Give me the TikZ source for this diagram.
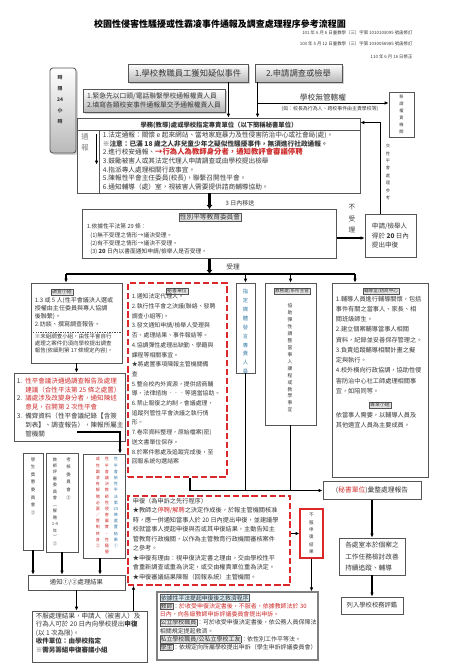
\documentclass[tikz,border=0pt]{standalone}
\usepackage{fontspec}
\setmainfont{Noto Sans CJK TC}
\usepackage{tikz}
\usetikzlibrary{shapes,arrows,arrows.meta,shadows}
\definecolor{redline}{RGB}{220,40,40}
\definecolor{redtext}{RGB}{205,45,45}
\definecolor{bluetext}{RGB}{50,120,165}
\definecolor{boxgray}{RGB}{85,85,85}
\definecolor{txtgray}{RGB}{55,55,55}
\definecolor{tagfill}{RGB}{228,228,228}
\definecolor{tagblue}{RGB}{214,234,244}
\setlength{\fboxsep}{0.6pt}
\setlength{\fboxrule}{0.4pt}
\tikzset{
  gbox/.style={shape=rectangle, draw=boxgray, line width=1.2pt, inner sep=1pt},
  shadebox/.style={gbox, top color=white, bottom color=gray!55, drop shadow={opacity=0.35}},
  redbox/.style={shape=rectangle, draw=redline, line width=2.2pt, dash pattern=on 9pt off 4pt},
  tag/.style={shape=rectangle, draw=boxgray, fill=tagfill, line width=0.5pt, inner sep=1.2pt, font=\fontsize{7}{8}\selectfont},
  link/.style={->, line width=1.7pt},
  fatlink/.style={-{Latex[length=6pt,width=9pt]}, line width=4pt}
}
\begin{document}
\begin{tikzpicture}[x=0.05cm, y=-0.05cm, >={Latex[length=5.5pt,width=5pt]}, every node/.style={text=txtgray}]
\useasboundingbox (0,0) rectangle (474,671);

% title
\node (title) at (220,24) [font=\fontsize{12.8}{14}\selectfont\bfseries, text=black] {校園性侵害性騷擾或性霸凌事件通報及調查處理程序參考流程圖};
\node (rev1) at (415,33) [anchor=east, font=\fontsize{6.3}{7}\selectfont] {101 年 6 月 6 日臺教學（三）字第 1010103095 號函修訂};
\node (rev2) at (415,44) [anchor=east, font=\fontsize{6.3}{7}\selectfont] {103 年 5 月 12 日臺教學（三）字第 1030056985 號函修訂};
\node (rev3) at (415,57) [anchor=east, font=\fontsize{6.3}{7}\selectfont] {110 年 6 月 16 日修正};

% report
\node (limit) at (63,110.5) [shadebox, rounded corners=4pt, minimum width=1.3cm, minimum height=4.25cm] {};
\node (limittxt) at (60,100) [align=center, font=\fontsize{7}{15.6}\selectfont\bfseries] {時\\限\\24\\小\\時};
\node (know) at (188,73) [shadebox, minimum width=6cm, minimum height=0.9cm, font=\fontsize{11.8}{13}\selectfont] {1.學校教職員工獲知疑似事件};
\node (apply) at (298.5,73) [shadebox, minimum width=4.35cm, minimum height=0.9cm, font=\fontsize{11.8}{13}\selectfont] {2.申請調查或檢舉};
\node (urgent) at (154,100.5) [shadebox, minimum width=7.1cm, minimum height=1.15cm, align=left, font=\fontsize{9.6}{12.8}\selectfont] {1.緊急先以口頭/電話聯繫學校通報權責人員\\2.填寫各類校安事件通報單交予通報權責人員};

\node (sec) at (218.5,155.5) [gbox, minimum width=14.15cm, minimum height=3.75cm] {};
\node (sechead) at (219,125) [font=\fontsize{9}{11}\selectfont\bfseries] {學務(教導)處或學校指定專責單位（以下簡稱秘書單位）};
\draw [boxgray, line width=0.8pt] ([yshift=-0.65cm]sec.north west) -- ([yshift=-0.65cm]sec.north east);
\draw [boxgray, line width=0.8pt] ([xshift=1.15cm,yshift=-0.65cm]sec.north west) -- ([xshift=1.15cm]sec.south west);
\node (report) at (85,142) [align=center, text=gray, font=\fontsize{10.5}{15.5}\selectfont] {通\\報};
\draw [link] ([xshift=1cm,yshift=-0.8cm]sec.north west) -- ([xshift=1cm,yshift=-2.35cm]sec.north west);
\node (sectxt) at (102,131) [anchor=north west, align=left, inner sep=1pt, font=\fontsize{9.5}{12.3}\selectfont] {1.法定通報：關懷 e 起來網站、當地家庭暴力及性侵害防治中心或社會局(處)。\\
\textbf{※注意：已滿 18 歲之人非兒童少年之疑似性騷擾事件，無須進行社政通報。}\\
2.進行校安通報、{\color{redtext}\bfseries\fontsize{10.5}{12.3}\selectfont →行為人為教師身分者，通知教評會審議停聘}\\
3.鼓勵被害人或其法定代理人申請調查或由學校提出檢舉\\
4.指派專人處理相關行政事宜。\\
5.陳報性平會主任委員(校長)，聯繫召開性平會。\\
6.通知輔導（處）室，視被害人需要提供諮商輔導協助。};

\draw [link] ([xshift=-1cm]know.south east) -- ([xshift=-1cm]know.south east |- sec.north);
\draw [link] ([xshift=0.15cm]apply.south west) -- ([xshift=0.15cm]apply.south west |- sec.north);

% no jurisdiction
\node (transfer) at (401.5,114.5) [gbox, minimum width=1.25cm, minimum height=2.25cm, align=center, font=\fontsize{6}{9.9}\selectfont] {移\\請\\權\\責\\機\\關};
\coordinate (nojur) at (258,103);
\draw [->, line width=1.2pt] (nojur) -- (nojur -| transfer.west);
\node (nojurtxt) at (323,97.5) [font=\fontsize{11}{12}\selectfont] {學校無管轄權};
\node (nojurnote) at (330,109) [font=\fontsize{7}{8}\selectfont] {(如：校長為行為人、跨校事件由主責學校等)};

% committee
\node (cte) at (209.5,234) [gbox, minimum width=12.7cm, minimum height=2.45cm] {};
\draw [fatlink] (sec.south -| cte.north) -- (cte.north);
\node (move) at (240,203) [font=\fontsize{8.5}{10}\selectfont] {3 日內移送};
\node (ctetag) at (210,217) [tag, font=\fontsize{9.5}{10}\selectfont] {性別平等教育委員會};
\node (ctetxt) at (86,223) [anchor=north west, align=left, inner sep=1pt, font=\fontsize{8.2}{11.8}\selectfont] {1.依據性平法第 29 條：\\
\hspace*{0.6em}(1)無不受理之情形→議決受理。\\
\hspace*{0.6em}(2)有不受理之情形→議決不受理。\\
\hspace*{0.6em}(3) \textbf{20} 日內以書面通知申請/檢舉人是否受理。};
\node (reject) at (352,219) [align=center, font=\fontsize{9.5}{16.3}\selectfont] {不\\受\\理};
\node (reapply) at (390.5,235.5) [gbox, minimum width=2.55cm, minimum height=2.15cm, align=left, font=\fontsize{9.3}{13.5}\selectfont] {申請/檢舉人\\得於 \textbf{20} 日內\\提出申復};
\draw [->, line width=2pt] ([yshift=-0.2cm]cte.east) -- ([yshift=-0.2cm]cte.east -| reapply.west);
\draw [->, line width=1.2pt] ([xshift=-0.525cm]reapply.north) |- ([yshift=-0.25cm]sec.north east);
\node (refer) at (388,172) [align=center, font=\fontsize{6}{10.5}\selectfont] {交\\性\\平\\會\\處\\理\\參\\考};

% investigation
\node (inv) at (76.5,323) [gbox, minimum width=4.55cm, minimum height=4cm] {};
\node (invtag) at (62,292) [tag] {調查小組};
\draw [boxgray, line width=1.4pt, dash pattern=on 2pt off 1.5pt] ([yshift=-2.5cm]inv.north west) -- ([yshift=-2.5cm]inv.north east);
\node (invtxt) at (34,297) [anchor=north west, align=left, inner sep=1pt, font=\fontsize{8.6}{11.4}\selectfont] {1.3 或 5 人(性平會議決人選或\\授權由主任委員與專人協調\\後聯繫)。\\2.訪談、撰寫調查報告。};
\node (invnote) at (34,333) [anchor=north west, align=left, inner sep=1pt, font=\fontsize{7.8}{10}\selectfont] {※未組調查小組，由性平會自行\\處理之案件仍須向學校提出調查\\報告(依細則第 17 條規定內容)。};

% secretary unit
\node (secunit) at (177.5,380) [redbox, minimum width=4.95cm, minimum height=9.7cm] {};
\node (sectag) at (177,291) [tag] {秘書單位};
\node (secunittxt) at (131,293) [anchor=north west, align=left, inner sep=1pt, font=\fontsize{8.4}{13.8}\selectfont] {1.通知法定代理人。\\
2.執行性平會之決議(聯絡、發聘\\調查小組等)。\\
3.發文通知申請/檢舉人受理與\\否、處理結果、事件報結等。\\
4.協調彈性處理出缺勤、學籍與\\課程等相關事宜。\\
★將處置事項陳報主管機關備\\查\\
5.整合校內外資源，提供諮商輔\\導、法律諮詢．．．等適當協助。\\
6.禁止報復之約制，會議處理，\\追蹤列管性平會決議之執行情\\形。\\
7.卷宗資料整理，原始檔案(密)\\送文書單位保存。\\
8.於案件懲處及追蹤完成後，至\\回報系統勾選結案};

% media, academic, counseling
\node (media) at (245.5,328) [gbox, minimum width=0.95cm, minimum height=4.5cm] {};
\node (mediatxt) at (245.5,287) [anchor=north, align=center, text=bluetext, font=\fontsize{7.5}{12.6}\selectfont] {指\\定\\媒\\體\\發\\言\\專\\責\\人\\員};
\node (acad) at (290.5,354) [gbox, minimum width=2.55cm, minimum height=7.1cm] {};
\node (acadtag) at (292,291) [tag, font=\fontsize{6.5}{7}\selectfont] {教務處/系所主管};
\node (acadtxt) at (290,301) [anchor=north, align=center, font=\fontsize{6.8}{9.9}\selectfont] {協\\助\\彈\\性\\調\\整\\當\\事\\人\\課\\程\\或\\教\\學\\事\\宜};
\node (couns) at (380,380) [gbox, minimum width=4.8cm, minimum height=9.7cm] {};
\node (counstag) at (381,291) [tag, font=\fontsize{6.5}{7}\selectfont] {輔導室/諮商中心};
\node (counstxt) at (335,295) [anchor=north west, align=left, inner sep=1pt, font=\fontsize{8.8}{14.6}\selectfont] {1.輔導人員進行輔導關懷，包括\\事件有關之當事人、家長、相\\關班級師生。\\
2.建立個案輔導當事人相關\\資料，紀錄並妥善保存管理之。\\
3.負責追蹤輔導相關計畫之擬\\定與執行。\\
4.校外橫向行政協調，協助性侵\\害防治中心社工師處理相關事\\宜，如陪同等。};
\node (proftag) at (380,405) [tag] {專業小組};
\node (proftxt) at (335,411) [anchor=north west, align=left, inner sep=1pt, font=\fontsize{8.8}{14.2}\selectfont] {依當事人需要，以輔導人員及\\其他適宜人員為主要成員。};

% accepted
\coordinate (hubL) at (66,274);
\coordinate (hubR) at (355,274);
\draw [fatlink] (cte.south) -- (cte.south |- hubL);
\node (accept) at (233,267) [font=\fontsize{9.5}{10}\selectfont] {受理};
\draw [line width=2pt] (hubL) -- (hubR);
\draw [link] (hubL) -- (hubL |- inv.north);
\draw [link] (media.north |- hubL) -- (media.north);
\draw [link] (acad.north |- hubL) -- (acad.north);
\draw [link] (hubR) -- (hubR |- couns.north);

% report summary
\node (rpt) at (372,490.5) [gbox, line width=1.4pt, minimum width=4.9cm, minimum height=0.9cm, font=\fontsize{9.6}{11}\selectfont] {({\color{redtext}秘書單位})彙整處理報告};
\draw [link] ([xshift=0.625cm]secunit.south) |- (rpt.west);
\draw [line width=1.7pt] (media.south) -- (media.south |- rpt.west);
\draw [line width=1.7pt] (acad.south) -- (acad.south |- rpt.west);
\node (improve) at (372,556.5) [gbox, line width=1.4pt, minimum width=3.3cm, minimum height=1.85cm, align=left, font=\fontsize{9.5}{16.3}\selectfont] {各處室本於個案之\\工作任務檢討改善\\持續追蹤、輔導};
\node (eval) at (372,605.5) [gbox, line width=1.4pt, minimum width=3.1cm, minimum height=0.85cm, font=\fontsize{9}{10}\selectfont] {列入學校校務評鑑};
\draw [link] (rpt) -- (improve);
\draw [link] (improve) -- (eval);

% decision
\node (dec) at (69.5,407) [gbox, minimum width=5.55cm, minimum height=3.4cm] {};
\draw [link] (inv.south) -- (inv.south |- dec.north);
\node (dectxt) at (16,377) [anchor=north west, align=left, inner sep=1pt, font=\fontsize{9.3}{12.5}\selectfont] {\makebox[1.3em][l]{1.}{\color{redtext}性平會議決通過調查報告及處理}\\
\makebox[1.3em]{}{\color{redtext}建議（合性平法第 25 條之處置）}\\
\makebox[1.3em][l]{2.}{\color{redtext}議處涉及改變身分者，通知陳述}\\
\makebox[1.3em]{}{\color{redtext}意見，召開第 2 次性平會}\\
\makebox[1.3em][l]{3.}備齊資料（性平會議紀錄\textbf{【}含簽\\
\makebox[1.3em]{}到表\textbf{】}、調查報告），陳報所屬主\\
\makebox[1.3em]{}管機關};
\coordinate (decout) at (77,432);

\node (stu) at (33,501.5) [gbox, minimum width=1cm, minimum height=4.85cm] {};
\node (stutxt) at (33,455) [anchor=north, align=center, font=\fontsize{6.3}{10.8}\selectfont] {學\\生\\獎\\懲\\委\\員\\會\\②};
\node (tch) at (62,502.5) [gbox, minimum width=1.6cm, minimum height=4.95cm] {};
\node (tchcol1) at (68.5,455) [anchor=north, align=center, font=\fontsize{6.3}{10.8}\selectfont] {考\\核\\委\\員\\會\\②};
\node (tchcol2) at (55,455) [anchor=north, align=center, font=\fontsize{6}{9.2}\selectfont] {教\\師\\評\\審\\委\\員\\會\\︵\\解\\聘\\1-4\\年\\︶\\②};
\node (law) at (104,506) [gbox, minimum width=2.1cm, minimum height=5.2cm] {};
\node (lawcol1) at (116,455) [anchor=north, align=center, text=bluetext, font=\fontsize{5.8}{8.8}\selectfont] {性\\平\\會\\依\\性\\平\\法\\第\\25\\條\\處\\置\\結\\果\\①};
\node (lawcol2) at (107,455) [anchor=north, align=center, text=redtext, font=\fontsize{5.8}{8.8}\selectfont] {性\\平\\會\\議\\決\\教\\師\\性\\侵\\害\\屬\\實\\、\\性\\騷\\擾};
\node (lawcol3) at (98,455) [anchor=north, align=center, text=redtext, font=\fontsize{5.8}{8.8}\selectfont] {或\\性\\霸\\凌\\有\\解\\聘\\必\\要\\／\\管\\制\\終\\身\\②};
\draw [link] (decout) -| ([xshift=0.8cm]law.north);

\node (notify) at (76.5,582.5) [gbox, minimum width=4.85cm, minimum height=0.75cm, font=\fontsize{9}{10}\selectfont] {通知①/②處理結果};
\draw [link] (stu.south) -- (stu.south |- notify.north);
\draw [link] (tch.south) -- (tch.south |- notify.north);
\draw [link] ([xshift=-0.2cm]law.south) -- ([xshift=-0.2cm]law.south |- notify.north);

% review
\node (rv) at (209,540.5) [redbox, minimum width=8.1cm, minimum height=4.45cm] {};
\node (rvtxt) at (132,497) [anchor=north west, align=left, inner sep=1pt, font=\fontsize{8.8}{13.5}\selectfont] {申復（為申訴之先行程序）\\
★教師之{\color{redtext}停聘/解聘}之決定作成後，於報主管機關核准\\
時，應一併通知當事人於 20 日內提出申復，並建議學\\
校就當事人提起申復與否或其申復結果，主動告知主\\
管教育行政機關，以作為主管教育行政機關審核案件\\
之參考。\\
★申復有理由：視申復決定書之理由，交由學校性平\\
會重新調查或重為決定，或交由權責單位重為決定。\\
★申復審議結果陳報（回報系統）主管機關。};

\node (appl) at (89.5,636.5) [gbox, minimum width=5.75cm, minimum height=2.55cm] {};
\node (appltxt) at (35,612) [anchor=north west, align=left, inner sep=1pt, font=\fontsize{9.3}{12.1}\selectfont] {不服處理結果，申請人（被害人）及\\行為人可於 20 日內向學校提出\textbf{申復}\\(以 1 次為限)。\\\textbf{收件單位：由學校指定}\\\textbf{※需另籌組申復審議小組}};
\draw [link] (notify.south) -- (notify.south |- appl.north);
\draw [link] ([xshift=2.2cm]appl.north) -- ([xshift=2.2cm]appl.north |- rv.south);

\node (rej) at (311.5,533.5) [shape=rectangle, draw=redline, line width=1.8pt, minimum width=1.15cm, minimum height=2.45cm, align=center, font=\fontsize{6.5}{10.5}\selectfont] {不\\服\\申\\復\\結\\果};
\draw [link] (rv.east |- rej.west) -- (rej.west);

\node (rd) at (237.5,626) [gbox, draw=gray, line width=2pt, minimum width=8.05cm, minimum height=3.4cm] {};
\draw [->, line width=2pt] (rej.south) -- (rej.south |- rd.north);
\node (rdtag) at (160,598) [anchor=west, tag, fill=tagblue, font=\fontsize{8.3}{9}\selectfont] {依據性平法提起申復後之救濟程序};
\node (rdtxt) at (159,602) [anchor=north west, align=left, inner sep=1pt, font=\fontsize{8.5}{11.6}\selectfont] {\fcolorbox{boxgray}{tagfill}{教師}：{\color{redtext}於收受申復決定書後，不服者，依據教師法於 30}\\
{\color{redtext}日內，向各級教師申訴評議委員會提出申訴。}\\
\fcolorbox{boxgray}{tagfill}{公立學校職員}：可於收受申復決定書後，依公務人員保障法\\
相關規定提起救濟。\\
\fcolorbox{boxgray}{tagfill}{私立學校職員/公私立學校工友}：依性別工作平等法。\\
\fcolorbox{boxgray}{tagfill}{學生}：依規定向所屬學校提出申訴（學生申訴評議委員會）};
\end{tikzpicture}
\end{document}
